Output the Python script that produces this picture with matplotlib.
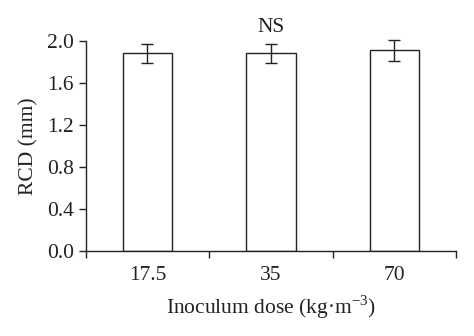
import matplotlib
matplotlib.use("Agg")
import matplotlib.pyplot as plt

# Data
doses = ["17.5", "35", "70"]
rcd = [1.88, 1.88, 1.91]
rcd_err = [0.09, 0.09, 0.10]

plt.rcParams['font.family'] = ['Liberation Serif', 'DejaVu Serif']
plt.rcParams['mathtext.fontset'] = 'custom'
plt.rcParams['mathtext.rm'] = 'Liberation Serif'

fs = 15.5
fig = plt.figure(figsize=(4.74, 3.36), dpi=100)
ax = fig.add_axes([0.181, 0.253, 0.781, 0.626])

col = '#222222'
x = list(range(len(doses)))
ax.bar(x, rcd, width=0.4, color='white', edgecolor=col, linewidth=1.0, zorder=2)
ax.errorbar(x, rcd, yerr=rcd_err, fmt='none', ecolor=col, elinewidth=1.0,
            capsize=4, capthick=1.0, zorder=3, clip_on=False)

ax.set_xlim(-0.5, 2.5)
ax.set_ylim(0, 2.0)
ax.set_yticks([0.0, 0.4, 0.8, 1.2, 1.6, 2.0])
ax.set_yticklabels(["0.0", "0.4", "0.8", "1.2", "1.6", "2.0"])
ax.set_xticks([-0.5, 0.5, 1.5, 2.5])
ax.set_xticklabels([])
ax.set_xticks(x, minor=True)
ax.set_xticklabels(doses, minor=True)
ax.tick_params(axis='x', which='minor', length=0, pad=11)
ax.tick_params(axis='both', which='major', length=5, width=1.0, color=col,
               direction='out')
ax.tick_params(axis='both', which='both', labelsize=fs, labelcolor=col)

for s in ['top', 'right']:
    ax.spines[s].set_visible(False)
for s in ['left', 'bottom']:
    ax.spines[s].set_color(col)
    ax.spines[s].set_linewidth(1.0)

ax.set_ylabel("RCD (mm)", fontsize=fs, color=col, labelpad=6)
ax.set_xlabel("Inoculum dose (kg·m$^{-3}$)", fontsize=fs, color=col, labelpad=6)
ax.text(1, 2.125, "NS", ha='center', va='center', fontsize=fs, color=col)

fig.savefig("out.png", dpi=100)
